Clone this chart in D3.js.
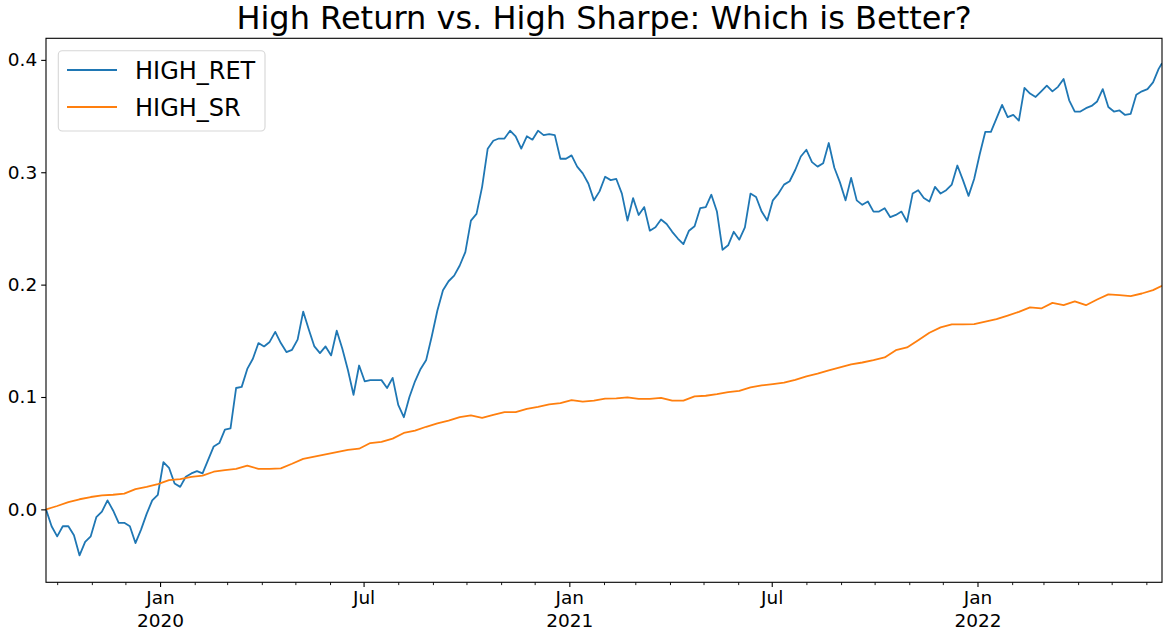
<!DOCTYPE html>
<html>
<head>
<meta charset="utf-8">
<script src="https://cdn.jsdelivr.net/npm/d3@7"></script>
<style>
  html, body { margin: 0; padding: 0; background: #ffffff; }
  svg { display: block; font-family: "DejaVu Sans", sans-serif; }
</style>
</head>
<body>
<svg id="chart" width="1169" height="637"></svg>
<script>
// ---------------- DATA ----------------
const TITLE = "High Return vs. High Sharpe: Which is Better?";
const SERIES_NAMES = ["HIGH_RET", "HIGH_SR"];
const START_DATE = "2019-09-21";
const END_DATE = "2022-06-15";
const RET_STEP_DAYS = 5;   // sampling step of HIGH_RET values (last value = END_DATE)
const SR_STEP_DAYS = 10;   // sampling step of HIGH_SR values (last value = END_DATE)
const Y_TICKS = [0.0, 0.1, 0.2, 0.3, 0.4];

const highRet = [
  0.000, -0.015, -0.024, -0.015, -0.015, -0.023, -0.041, -0.029, -0.024, -0.007,
  -0.002, 0.008, -0.001, -0.012, -0.012, -0.015, -0.030, -0.018, -0.004, 0.008,
  0.013, 0.042, 0.037, 0.023, 0.020, 0.029, 0.032, 0.034, 0.032, 0.044,
  0.056, 0.059, 0.071, 0.072, 0.108, 0.109, 0.125, 0.134, 0.148, 0.145,
  0.149, 0.158, 0.148, 0.140, 0.142, 0.151, 0.176, 0.160, 0.145, 0.139,
  0.145, 0.137, 0.159, 0.143, 0.124, 0.102, 0.128, 0.114, 0.115, 0.115,
  0.115, 0.108, 0.117, 0.093, 0.082, 0.100, 0.114, 0.125, 0.133, 0.154,
  0.177, 0.195, 0.203, 0.208, 0.217, 0.229, 0.257, 0.263, 0.287, 0.321,
  0.328, 0.330, 0.330, 0.337, 0.332, 0.321, 0.332, 0.329, 0.337, 0.333,
  0.334, 0.333, 0.312, 0.312, 0.315, 0.305, 0.299, 0.290, 0.275, 0.283,
  0.296, 0.293, 0.294, 0.281, 0.257, 0.277, 0.262, 0.269, 0.248, 0.251,
  0.258, 0.254, 0.247, 0.241, 0.236, 0.248, 0.252, 0.268, 0.269, 0.280,
  0.265, 0.231, 0.235, 0.247, 0.240, 0.251, 0.281, 0.278, 0.265, 0.257,
  0.275, 0.281, 0.289, 0.292, 0.302, 0.314, 0.320, 0.309, 0.305, 0.308,
  0.326, 0.304, 0.291, 0.275, 0.295, 0.275, 0.271, 0.274, 0.265, 0.265,
  0.268, 0.260, 0.262, 0.265, 0.256, 0.281, 0.284, 0.277, 0.274, 0.287,
  0.281, 0.284, 0.289, 0.306, 0.293, 0.279, 0.294, 0.316, 0.336, 0.336,
  0.348, 0.360, 0.349, 0.351, 0.346, 0.375, 0.370, 0.367, 0.372, 0.377,
  0.372, 0.376, 0.383, 0.364, 0.354, 0.354, 0.357, 0.359, 0.363, 0.374,
  0.358, 0.354, 0.355, 0.351, 0.352, 0.369, 0.372, 0.374, 0.380, 0.392,
  0.397
];

const highSr = [
  0.000, 0.003, 0.0065, 0.009, 0.011, 0.0125, 0.013, 0.014, 0.018, 0.020,
  0.0225, 0.026, 0.027, 0.029, 0.030, 0.0335, 0.035, 0.036, 0.039, 0.036,
  0.036, 0.0365, 0.0406, 0.045, 0.047, 0.049, 0.051, 0.053, 0.054, 0.059,
  0.060, 0.063, 0.068, 0.070, 0.0735, 0.0765, 0.079, 0.082, 0.0836, 0.0815,
  0.084, 0.0866, 0.0866, 0.0895, 0.0913, 0.0934, 0.0946, 0.0973, 0.0958, 0.0967,
  0.0986, 0.0987, 0.0996, 0.0984, 0.0984, 0.0993, 0.0967, 0.0967, 0.1006, 0.1011,
  0.1026, 0.1044, 0.1055, 0.1085, 0.1103, 0.1115, 0.1127, 0.1153, 0.1183, 0.1207,
  0.1236, 0.1263, 0.129, 0.1307, 0.1328, 0.1352, 0.1417, 0.1441, 0.1506, 0.1572,
  0.1619, 0.1646, 0.1646, 0.1649, 0.167, 0.1693, 0.1725, 0.1758, 0.1797, 0.1788,
  0.1838, 0.1817, 0.185, 0.1817, 0.1868, 0.1913, 0.1907, 0.1898, 0.1921, 0.1951,
  0.199
];

const COLORS = ["#1f77b4", "#ff7f0e"];

// ---------------- LAYOUT ----------------
const W = 1169, H = 637;
const M = { left: 46, right: 1162, top: 38.3, bottom: 582.3 };

const parse = d3.utcParse("%Y-%m-%d");
const t0 = parse(START_DATE), t1 = parse(END_DATE);

function buildSeries(values, step) {
  return values.map((v, i) => ({
    date: i === values.length - 1 ? t1 : d3.utcDay.offset(t0, step * i),
    value: v
  }));
}
const series = [buildSeries(highRet, RET_STEP_DAYS), buildSeries(highSr, SR_STEP_DAYS)];

const x = d3.scaleUtc().domain([t0, t1]).range([M.left, M.right]);
const y = d3.scaleLinear().domain([-0.0649, 0.4192]).range([M.bottom, M.top]);

const svg = d3.select("#chart");
svg.append("rect").attr("width", W).attr("height", H).attr("fill", "#ffffff");

svg.append("defs").append("clipPath").attr("id", "clip")
  .append("rect").attr("x", M.left).attr("y", M.top)
  .attr("width", M.right - M.left).attr("height", M.bottom - M.top);

// lines
const line = d3.line().x(d => x(d.date)).y(d => y(d.value));
const gLines = svg.append("g").attr("clip-path", "url(#clip)");
series.forEach((s, k) => {
  gLines.append("path").datum(s)
    .attr("fill", "none")
    .attr("stroke", COLORS[k])
    .attr("stroke-width", 1.8)
    .attr("stroke-linejoin", "round")
    .attr("d", line);
});

// Y axis
const yAxis = d3.axisLeft(y).tickValues(Y_TICKS).tickFormat(d3.format(".1f"))
  .tickSize(4.8).tickPadding(4);
const gy = svg.append("g").attr("transform", `translate(${M.left},0)`).call(yAxis);
gy.select(".domain").remove();
gy.selectAll(".tick line").attr("stroke", "#000").attr("stroke-width", 1.1);
gy.selectAll(".tick text").attr("font-size", 18.5).attr("fill", "#000")
  .attr("font-family", "DejaVu Sans");

// X axis: minor monthly ticks
const minorTicks = d3.utcMonth.range(t0, d3.utcDay.offset(t1, 1))
  .filter(d => d.getUTCMonth() % 6 !== 0);
const gxMinor = svg.append("g").attr("transform", `translate(0,${M.bottom})`)
  .call(d3.axisBottom(x).tickValues(minorTicks).tickSize(2.8).tickFormat(""));
gxMinor.select(".domain").remove();
gxMinor.selectAll(".tick line").attr("stroke", "#000").attr("stroke-width", 0.9);

// X axis: major ticks Jan / Jul
const majorTicks = d3.utcMonth.range(t0, d3.utcDay.offset(t1, 1))
  .filter(d => d.getUTCMonth() % 6 === 0);
const gx = svg.append("g").attr("transform", `translate(0,${M.bottom})`)
  .call(d3.axisBottom(x).tickValues(majorTicks).tickSize(4.8).tickFormat(""));
gx.select(".domain").remove();
gx.selectAll(".tick line").attr("stroke", "#000").attr("stroke-width", 1.1);
const monthFmt = d3.utcFormat("%b"), yearFmt = d3.utcFormat("%Y");
gx.selectAll(".tick").each(function(d) {
  const t = d3.select(this).append("text")
    .attr("fill", "#000").attr("font-size", 18.5)
    .attr("font-family", "DejaVu Sans")
    .attr("text-anchor", "middle");
  t.append("tspan").attr("x", 0).attr("y", 22).text(monthFmt(d));
  if (d.getUTCMonth() === 0) {
    t.append("tspan").attr("x", 0).attr("y", 44.4).text(yearFmt(d));
  }
});

// spines
svg.append("rect")
  .attr("x", M.left).attr("y", M.top)
  .attr("width", M.right - M.left).attr("height", M.bottom - M.top)
  .attr("fill", "none").attr("stroke", "#000").attr("stroke-width", 1.1);

// title
svg.append("text")
  .attr("x", (M.left + M.right) / 2).attr("y", 29)
  .attr("text-anchor", "middle")
  .attr("font-size", 32).attr("fill", "#000")
  .attr("font-family", "DejaVu Sans")
  .text(TITLE);

// legend
const lg = svg.append("g");
lg.append("rect")
  .attr("x", 58.3).attr("y", 50.7).attr("width", 206.7).attr("height", 80.3)
  .attr("rx", 4).attr("ry", 4)
  .attr("fill", "#ffffff").attr("fill-opacity", 0.8)
  .attr("stroke", "#cccccc").attr("stroke-opacity", 0.8).attr("stroke-width", 1.1);
const legendRows = [70, 107];
SERIES_NAMES.forEach((name, k) => {
  lg.append("line")
    .attr("x1", 67).attr("x2", 117)
    .attr("y1", legendRows[k]).attr("y2", legendRows[k])
    .attr("stroke", COLORS[k]).attr("stroke-width", 1.8);
  lg.append("text")
    .attr("x", 135).attr("y", legendRows[k] + 9.3)
    .attr("font-size", 24).attr("fill", "#000")
    .attr("font-family", "DejaVu Sans")
    .text(name);
});
</script>
</body>
</html>
